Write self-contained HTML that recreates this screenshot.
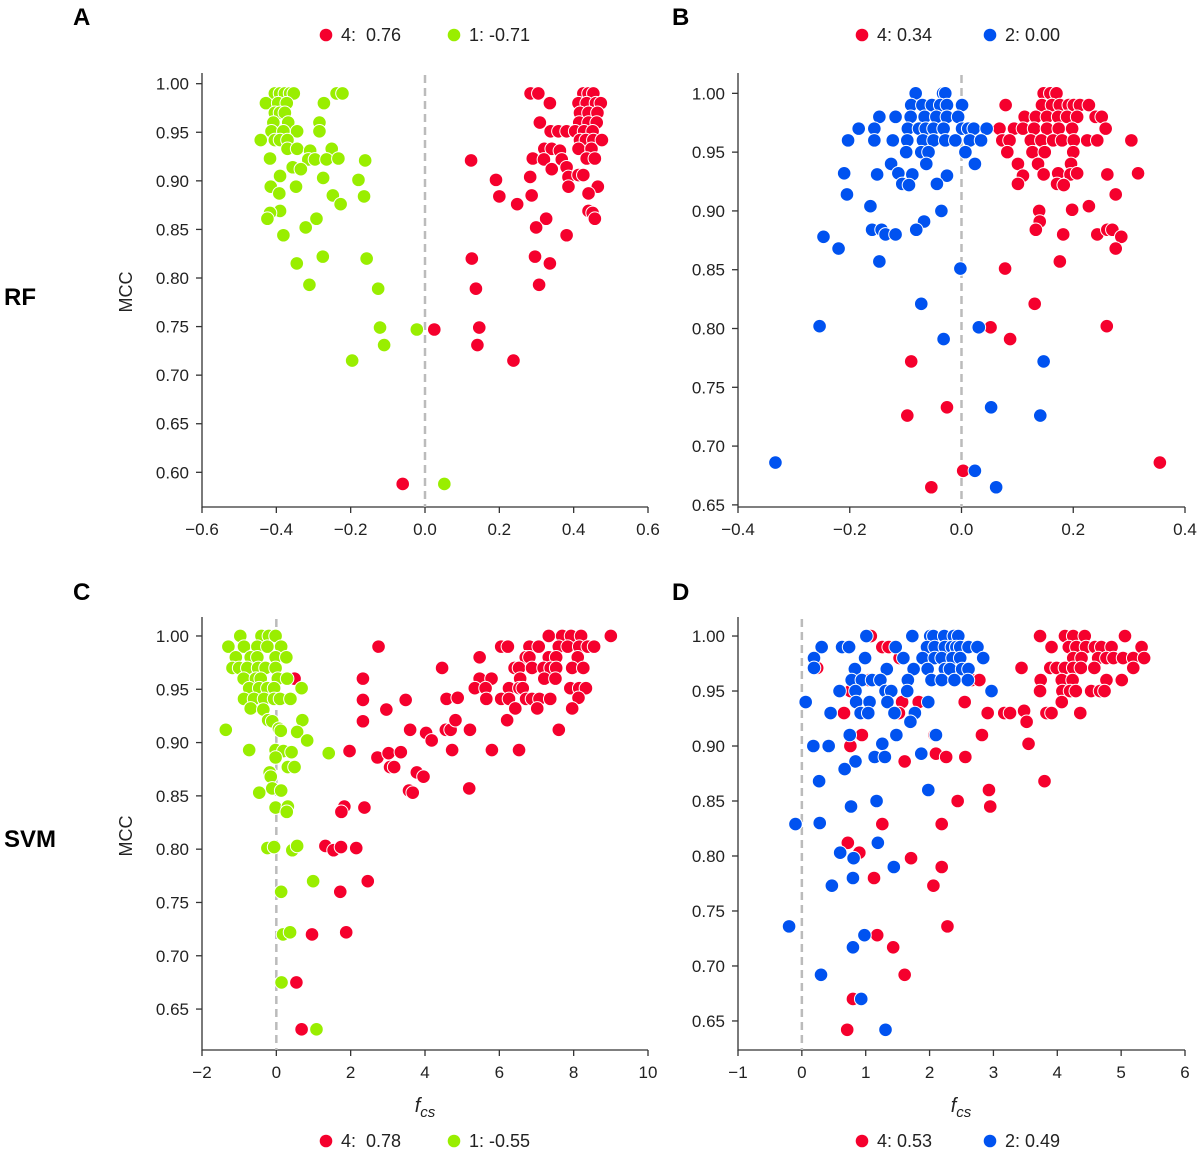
<!DOCTYPE html>
<html><head><meta charset="utf-8"><style>
body{margin:0;background:#fff;}
svg{display:block;font-family:"Liberation Sans",Arial,sans-serif;}
</style></head><body>
<svg id="fig" width="1200" height="1153" viewBox="0 0 1200 1153" xmlns="http://www.w3.org/2000/svg">
<rect width="1200" height="1153" fill="#fff"/>
<text x="73" y="25" font-size="24" font-weight="bold">A</text>
<text x="672" y="25" font-size="24" font-weight="bold">B</text>
<text x="73" y="600" font-size="24" font-weight="bold">C</text>
<text x="672" y="600" font-size="24" font-weight="bold">D</text>
<text x="4" y="305" font-size="24" font-weight="bold">RF</text>
<text x="4" y="847" font-size="24" font-weight="bold">SVM</text>
<text transform="translate(132,292) rotate(-90)" text-anchor="middle" font-size="18" fill="#222">MCC</text>
<text transform="translate(132,836) rotate(-90)" text-anchor="middle" font-size="18" fill="#222">MCC</text>
<text x="425" y="1112" text-anchor="middle" font-size="20" font-style="italic" fill="#222">f<tspan font-size="15" dy="5">cs</tspan></text>
<text x="961" y="1112" text-anchor="middle" font-size="20" font-style="italic" fill="#222">f<tspan font-size="15" dy="5">cs</tspan></text>
</svg>
<script>
const RED='#f5002d', GREEN='#99ee00', BLUE='#0052f0';
// Panel A (RF, 4 vs 1)
const aGreenX=[-0.404,-0.390,-0.377,-0.363,-0.353,-0.238,-0.222,-0.428,-0.395,-0.372,-0.272,-0.404,-0.390,-0.377,-0.408,-0.368,-0.284,-0.413,-0.381,-0.344,-0.284,-0.442,-0.404,-0.390,-0.370,-0.370,-0.344,-0.309,-0.251,-0.417,-0.314,-0.296,-0.265,-0.233,-0.161,-0.356,-0.334,-0.390,-0.274,-0.179,-0.415,-0.347,-0.392,-0.248,-0.164,-0.227,-0.390,-0.417,-0.424,-0.292,-0.321,-0.381,-0.275,-0.157,-0.345,-0.311,-0.126,-0.121,-0.022,-0.110,-0.196,0.052];
const aGreenY=[0.990,0.990,0.990,0.990,0.990,0.990,0.990,0.980,0.980,0.980,0.980,0.970,0.970,0.970,0.960,0.960,0.960,0.951,0.951,0.951,0.951,0.942,0.942,0.942,0.942,0.933,0.933,0.931,0.933,0.923,0.922,0.922,0.922,0.923,0.921,0.914,0.912,0.905,0.903,0.901,0.894,0.894,0.887,0.885,0.884,0.876,0.869,0.867,0.861,0.861,0.852,0.844,0.822,0.820,0.815,0.793,0.789,0.749,0.747,0.731,0.715,0.588];
const aRedX=[0.284,0.305,0.426,0.440,0.453,0.336,0.413,0.435,0.460,0.473,0.417,0.440,0.464,0.309,0.415,0.440,0.462,0.338,0.359,0.381,0.404,0.428,0.451,0.417,0.433,0.453,0.476,0.321,0.341,0.363,0.413,0.448,0.124,0.290,0.320,0.368,0.435,0.457,0.381,0.341,0.191,0.283,0.386,0.413,0.426,0.386,0.465,0.200,0.287,0.440,0.248,0.440,0.451,0.457,0.326,0.299,0.381,0.126,0.296,0.336,0.137,0.307,0.146,0.025,0.141,0.238,-0.060];
const aRedY=[0.990,0.990,0.990,0.990,0.990,0.980,0.980,0.980,0.980,0.980,0.970,0.970,0.970,0.960,0.960,0.960,0.960,0.951,0.951,0.951,0.951,0.951,0.951,0.942,0.942,0.942,0.942,0.933,0.933,0.931,0.933,0.933,0.921,0.923,0.922,0.922,0.923,0.923,0.914,0.912,0.901,0.904,0.904,0.906,0.906,0.894,0.894,0.884,0.885,0.887,0.876,0.869,0.867,0.861,0.861,0.852,0.844,0.820,0.822,0.815,0.789,0.793,0.749,0.747,0.731,0.715,0.588];
// Panel B (RF, 4 vs 2)
const bBlueX=[-0.082,-0.033,-0.029,-0.090,-0.070,-0.053,-0.038,-0.026,0.001,-0.147,-0.118,-0.091,-0.066,-0.045,-0.026,-0.006,-0.184,-0.156,-0.096,-0.076,-0.064,-0.050,-0.032,0.001,0.012,0.022,0.045,-0.203,-0.156,-0.123,-0.097,-0.069,-0.050,-0.029,-0.011,0.015,0.035,-0.099,-0.072,-0.059,0.007,-0.126,-0.063,0.024,-0.210,-0.151,-0.113,-0.088,-0.026,-0.106,-0.094,-0.044,-0.205,-0.163,-0.036,-0.067,-0.160,-0.143,-0.136,-0.118,-0.081,-0.247,-0.220,-0.147,-0.002,-0.072,-0.254,0.031,-0.032,0.147,0.053,0.141,-0.333,0.024,0.062];
const bBlueY=[1.000,1.000,1.000,0.990,0.990,0.990,0.990,0.990,0.990,0.980,0.980,0.980,0.980,0.980,0.980,0.980,0.970,0.970,0.970,0.970,0.970,0.970,0.970,0.970,0.970,0.970,0.970,0.960,0.960,0.960,0.960,0.960,0.960,0.960,0.960,0.960,0.960,0.950,0.950,0.950,0.950,0.940,0.940,0.940,0.932,0.931,0.932,0.931,0.930,0.923,0.922,0.923,0.914,0.904,0.900,0.891,0.884,0.884,0.880,0.880,0.884,0.878,0.868,0.857,0.851,0.821,0.802,0.801,0.791,0.772,0.733,0.726,0.686,0.679,0.665];
const bRedX=[0.147,0.159,0.170,0.079,0.144,0.162,0.176,0.192,0.201,0.212,0.228,0.113,0.133,0.153,0.173,0.189,0.207,0.240,0.251,0.068,0.094,0.110,0.130,0.153,0.174,0.198,0.258,0.073,0.086,0.124,0.143,0.164,0.180,0.201,0.225,0.243,0.304,0.082,0.127,0.149,0.200,0.101,0.137,0.196,0.110,0.147,0.173,0.195,0.207,0.261,0.316,0.101,0.171,0.183,0.276,0.228,0.198,0.139,0.140,0.133,0.182,0.243,0.261,0.270,0.286,0.276,0.176,0.078,0.131,0.260,0.052,0.087,-0.090,-0.026,-0.097,0.355,0.003,-0.054];
const bRedY=[1.000,1.000,1.000,0.990,0.990,0.990,0.990,0.990,0.990,0.990,0.990,0.980,0.980,0.980,0.980,0.980,0.980,0.980,0.980,0.970,0.970,0.970,0.970,0.970,0.970,0.970,0.970,0.960,0.960,0.960,0.960,0.960,0.960,0.960,0.960,0.960,0.960,0.950,0.950,0.950,0.950,0.940,0.940,0.940,0.930,0.931,0.932,0.931,0.932,0.931,0.932,0.923,0.923,0.922,0.914,0.904,0.901,0.900,0.891,0.884,0.880,0.880,0.884,0.884,0.878,0.868,0.857,0.851,0.821,0.802,0.801,0.791,0.772,0.733,0.726,0.686,0.679,0.665];
// Panel C (SVM, 4 vs 1)
const cGreenX=[-0.97,-0.40,-0.20,-0.02,-1.29,-0.87,-0.51,-0.24,0.13,-1.09,-0.69,-0.51,-0.02,0.27,-1.18,-1.00,-0.78,-0.49,-0.29,-0.02,-0.88,-0.55,-0.42,0.04,0.29,-0.73,-0.46,-0.24,-0.06,0.68,-0.87,-0.60,-0.33,-0.06,0.10,0.38,-0.69,-0.35,-0.22,-0.11,0.70,-1.36,0.07,0.12,0.56,0.83,-0.73,-0.02,0.19,0.41,1.41,-0.02,0.31,0.49,-0.18,-0.15,-0.11,-0.46,0.13,-0.02,0.31,0.28,-0.24,-0.06,0.43,0.56,0.99,0.13,0.18,0.37,0.14,1.08];
const cGreenY=[1.000,1.000,1.000,1.000,0.990,0.990,0.990,0.990,0.990,0.980,0.980,0.980,0.980,0.980,0.970,0.970,0.970,0.970,0.970,0.970,0.960,0.960,0.960,0.960,0.960,0.951,0.951,0.951,0.951,0.951,0.941,0.941,0.941,0.941,0.941,0.941,0.932,0.931,0.921,0.920,0.921,0.912,0.913,0.911,0.910,0.902,0.893,0.893,0.892,0.891,0.890,0.886,0.877,0.877,0.872,0.868,0.857,0.853,0.855,0.839,0.840,0.835,0.801,0.802,0.799,0.803,0.770,0.760,0.720,0.722,0.675,0.631];
const cRedX=[0.49,2.75,2.33,2.33,2.33,2.96,3.48,4.46,4.58,4.88,3.60,4.03,4.18,4.56,4.69,4.82,5.21,5.47,5.47,5.79,5.34,5.63,5.65,6.05,6.23,6.81,7.06,7.33,7.69,7.93,8.20,9.00,7.60,7.84,8.15,8.38,8.55,6.71,6.81,7.33,7.53,8.11,6.41,6.53,6.88,7.19,7.38,7.53,7.96,8.26,6.56,7.21,7.51,6.26,6.54,6.63,7.91,8.15,8.33,6.05,6.26,6.72,6.88,7.08,7.37,8.13,6.43,7.02,7.96,6.21,7.60,1.97,2.72,3.02,3.35,3.06,3.17,3.78,3.96,4.73,5.80,6.53,5.19,3.57,3.67,1.83,1.75,2.37,1.32,1.54,1.74,2.15,2.46,1.72,0.96,1.88,0.54,0.68];
const cRedY=[0.960,0.990,0.960,0.940,0.920,0.931,0.940,0.970,0.941,0.942,0.912,0.909,0.902,0.912,0.912,0.921,0.912,0.980,0.960,0.960,0.951,0.951,0.941,0.990,0.990,0.990,0.990,1.000,1.000,1.000,1.000,1.000,0.990,0.990,0.990,0.990,0.990,0.980,0.980,0.980,0.980,0.980,0.970,0.970,0.970,0.970,0.970,0.970,0.970,0.970,0.960,0.960,0.960,0.951,0.951,0.951,0.951,0.951,0.951,0.941,0.941,0.941,0.941,0.941,0.941,0.942,0.932,0.932,0.932,0.921,0.912,0.892,0.886,0.890,0.891,0.877,0.877,0.872,0.868,0.893,0.893,0.893,0.857,0.855,0.853,0.840,0.835,0.839,0.803,0.799,0.802,0.801,0.770,0.760,0.720,0.722,0.675,0.631];
// Panel D (SVM, 4 vs 2)
const dBlueX=[1.01,1.73,2.01,2.06,2.23,2.38,2.45,0.31,0.63,0.74,1.47,1.96,2.08,2.24,2.35,2.42,2.48,2.61,2.75,0.19,0.99,1.59,1.89,2.08,2.19,2.36,2.48,2.84,0.19,0.83,1.33,1.75,1.97,2.24,2.32,2.51,2.61,0.78,0.94,1.10,1.23,1.66,2.03,2.19,2.39,2.60,2.97,0.59,0.84,1.31,1.40,1.65,0.06,0.85,1.06,1.34,1.98,0.45,0.92,1.04,1.45,1.77,1.70,0.75,1.48,2.10,0.18,0.42,1.26,1.14,1.30,1.87,0.84,0.67,0.27,1.98,1.17,0.77,-0.10,0.28,1.19,0.60,0.81,1.44,0.80,0.47,-0.20,0.98,0.80,0.30,0.93,1.31];
const dBlueY=[1.000,1.000,1.000,1.000,1.000,1.000,1.000,0.990,0.990,0.990,0.990,0.990,0.990,0.990,0.990,0.990,0.990,0.990,0.990,0.980,0.980,0.980,0.980,0.980,0.980,0.980,0.980,0.980,0.971,0.970,0.970,0.970,0.970,0.970,0.970,0.970,0.970,0.960,0.960,0.960,0.960,0.960,0.960,0.960,0.960,0.960,0.950,0.950,0.950,0.950,0.950,0.950,0.940,0.940,0.940,0.940,0.940,0.930,0.930,0.930,0.930,0.930,0.922,0.910,0.910,0.910,0.900,0.900,0.902,0.890,0.890,0.893,0.886,0.879,0.868,0.860,0.850,0.845,0.829,0.830,0.812,0.803,0.798,0.790,0.780,0.773,0.736,0.728,0.717,0.692,0.670,0.642];
const dRedX=[1.08,1.26,1.36,1.53,0.24,1.05,2.66,2.78,0.76,1.57,1.83,2.55,0.66,1.52,2.08,0.94,0.76,2.10,2.26,2.56,1.61,2.82,2.91,3.17,3.26,3.48,3.52,3.55,3.44,3.73,4.12,4.25,4.43,5.06,3.91,4.18,4.30,4.45,4.59,4.69,4.85,5.32,4.25,4.38,4.64,4.77,4.88,5.03,5.19,5.36,3.89,3.99,4.12,4.25,4.37,4.58,5.19,3.74,4.07,4.24,4.77,5.01,3.73,4.08,4.20,4.29,4.53,4.67,4.74,4.07,3.83,3.91,4.36,3.80,2.93,2.44,2.95,1.26,2.19,0.72,0.90,1.71,2.19,1.13,2.06,2.28,1.18,1.43,1.61,0.80,0.71];
const dRedY=[1.000,0.990,0.990,0.980,0.971,0.960,0.960,0.960,0.950,0.940,0.940,0.940,0.930,0.930,0.910,0.910,0.900,0.893,0.890,0.890,0.886,0.910,0.930,0.930,0.930,0.932,0.922,0.902,0.971,1.000,1.000,1.000,1.000,1.000,0.990,0.990,0.990,0.990,0.990,0.990,0.990,0.990,0.980,0.980,0.980,0.980,0.980,0.980,0.980,0.980,0.971,0.971,0.971,0.971,0.971,0.971,0.971,0.960,0.960,0.960,0.960,0.960,0.950,0.950,0.950,0.950,0.950,0.950,0.950,0.940,0.930,0.930,0.930,0.868,0.860,0.850,0.845,0.829,0.829,0.812,0.803,0.798,0.790,0.780,0.773,0.736,0.728,0.717,0.692,0.670,0.642];
// tick labels
const abXTicksA=[-0.6,-0.4,-0.2,0,0.2,0.4,0.6];
const yTicksA=[0.60,0.65,0.70,0.75,0.80,0.85,0.90,0.95,1.00];
const xTicksB=[-0.4,-0.2,0,0.2,0.4];
const yTicksB=[0.65,0.70,0.75,0.80,0.85,0.90,0.95,1.00];
const xTicksC=[-2,0,2,4,6,8,10];
const yTicksC=[0.65,0.70,0.75,0.80,0.85,0.90,0.95,1.00];
const xTicksD=[-1,0,1,2,3,4,5,6];
const yTicksD=[0.65,0.70,0.75,0.80,0.85,0.90,0.95,1.00];
const legendA=['4:  0.76','1: -0.71'];
const legendB=['4: 0.34','2: 0.00'];
const legendC=['4:  0.78','1: -0.55'];
const legendD=['4: 0.53','2: 0.49'];

const NS='http://www.w3.org/2000/svg';
const svg=document.getElementById('fig');
function mk(tag,attrs,parent){const e=document.createElementNS(NS,tag);for(const k in attrs)e.setAttribute(k,attrs[k]);(parent||svg).appendChild(e);return e;}
function fmt(v,d){return (v<0?'\u2212':'')+Math.abs(v).toFixed(d);}

function panel(id,L,R,T,B,x0,x1,y0,y1,xt,xd,yt,series,legend,legY,legX){
  const g=mk('g',{});
  
  
  const sx=v=>L+(v-x0)/(x1-x0)*(R-L);
  const sy=v=>B-(v-y0)/(y1-y0)*(B-T);
  const ax=mk('path',{d:`M${L},${T}V${B}H${R}`,fill:'none',stroke:'#333','stroke-width':1.3},g);
  
  
  xt.forEach(v=>{
    mk('line',{x1:sx(v),x2:sx(v),y1:B,y2:B+6,stroke:'#333','stroke-width':1.3},g);
    const t=mk('text',{x:sx(v),y:B+28,'text-anchor':'middle','font-size':17,fill:'#222'},g);
    t.textContent=fmt(v,xd);
    
    
  });
  yt.forEach(v=>{
    mk('line',{x1:L-6,x2:L,y1:sy(v),y2:sy(v),stroke:'#333','stroke-width':1.3},g);
    const t=mk('text',{x:L-13,y:sy(v)+6,'text-anchor':'end','font-size':17,fill:'#222'},g);
    t.textContent=v.toFixed(2);
    
    
  });
  const zl=mk('line',{x1:sx(0),x2:sx(0),y1:T+2,y2:B,stroke:'#bbb','stroke-width':2.5,'stroke-dasharray':'8,5'},g);
  
  
  series.forEach(s=>{
    const sg=mk('g',{},g);
    
    
    s.x.forEach((xv,i)=>{
      const c=mk('circle',{cx:sx(xv),cy:sy(s.y[i]),r:6.8,fill:s.color,stroke:'#fff','stroke-width':1},sg);
      
      
    });
  });
  const lg=mk('g',{},g);
  
  
  [0,1].forEach(i=>{
    const cx=legX+i*128;
    mk('circle',{cx:cx,cy:legY-6,r:6.3,fill:series[i].color},lg);
    const t=mk('text',{x:cx+15,y:legY,'font-size':18,fill:'#222'},lg);
    t.setAttribute('style','white-space:pre');
    t.textContent=legend[i];
    
    
  });
}
panel('a',202,648,73,507,-0.6,0.6,0.5643,1.011,abXTicksA,1,yTicksA,
  [{name:'red-4',color:RED,x:aRedX,y:aRedY},{name:'green-1',color:GREEN,x:aGreenX,y:aGreenY}],legendA,41,326);
panel('b',738,1185,73,507,-0.4,0.4,0.6482,1.0173,xTicksB,1,yTicksB,
  [{name:'red-4',color:RED,x:bRedX,y:bRedY},{name:'blue-2',color:BLUE,x:bBlueX,y:bBlueY}],legendB,41,862);
panel('c',202,648,617,1050,-2,10,0.6116,1.0178,xTicksC,0,yTicksC,
  [{name:'red-4',color:RED,x:cRedX,y:cRedY},{name:'green-1',color:GREEN,x:cGreenX,y:cGreenY}],legendC,1147,326);
panel('d',738,1185,617,1050,-1,6,0.6236,1.0173,xTicksD,0,yTicksD,
  [{name:'red-4',color:RED,x:dRedX,y:dRedY},{name:'blue-2',color:BLUE,x:dBlueX,y:dBlueY}],legendD,1147,862);
</script>
</body></html>
